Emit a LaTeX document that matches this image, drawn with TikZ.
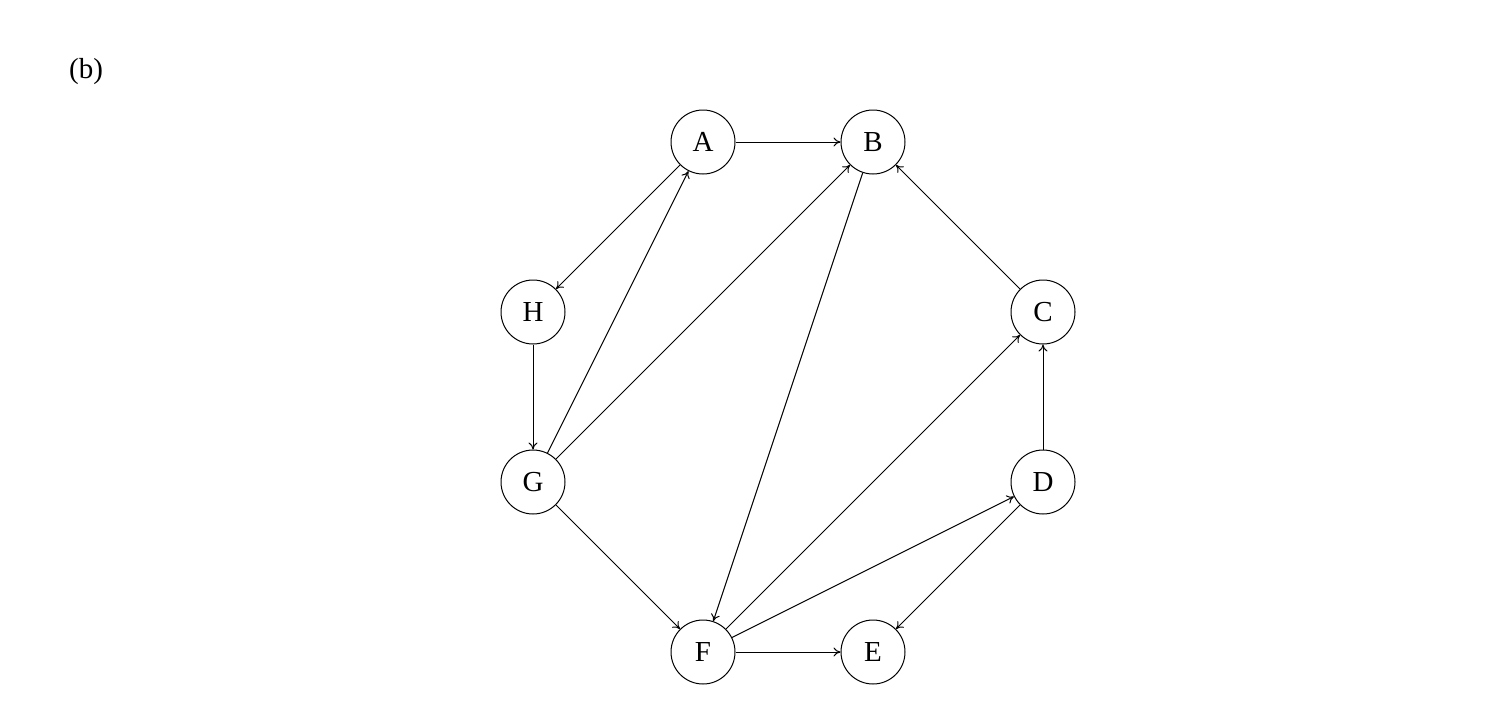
\documentclass[tikz,border=0pt]{standalone}
\usepackage{fontspec}
\setmainfont{Liberation Serif}
\usetikzlibrary{arrows.meta}
\begin{document}
\begin{tikzpicture}[x=1pt,y=-1pt,
  vert/.style={draw,circle,minimum size=64pt,inner sep=0pt,line width=1pt,font=\fontsize{29}{32}\selectfont},
  edge/.style={-{To[length=7pt,width=9pt]},line width=1pt}]
\useasboundingbox (0,0) rectangle (1510,702);
\node[font=\fontsize{29}{32}\selectfont] (lbl) at (86,72) {(b)};
\node[vert] (A) at (703,142) {A};
\node[vert] (B) at (873,142) {B};
\node[vert] (C) at (1043,312) {C};
\node[vert] (D) at (1043,482) {D};
\node[vert] (E) at (873,652) {E};
\node[vert] (F) at (703,652) {F};
\node[vert] (G) at (533,482) {G};
\node[vert] (H) at (533,312) {H};
\draw[edge] (A) -- (B);
\draw[edge] (C) -- (B);
\draw[edge] (A) -- (H);
\draw[edge] (G) -- (A);
\draw[edge] (G) -- (B);
\draw[edge] (B) -- (F);
\draw[edge] (H) -- (G);
\draw[edge] (G) -- (F);
\draw[edge] (F) -- (C);
\draw[edge] (F) -- (D);
\draw[edge] (D) -- (C);
\draw[edge] (D) -- (E);
\draw[edge] (F) -- (E);
\end{tikzpicture}
\end{document}
